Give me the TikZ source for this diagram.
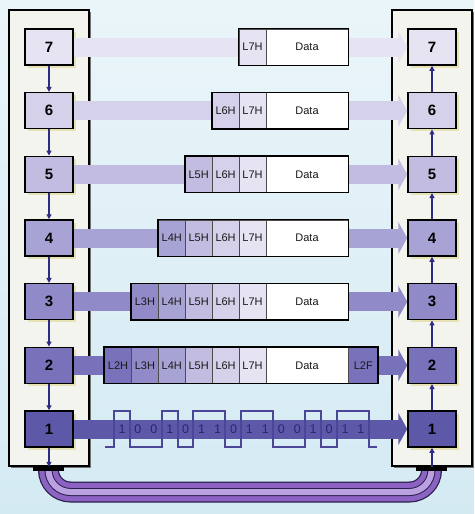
\documentclass[tikz,border=0pt]{standalone}
\usepackage{fontspec}
\setmainfont{Liberation Sans}
\usetikzlibrary{positioning, fit, calc, arrows.meta, shadows}
\definecolor{c7}{HTML}{E6E4F3}
\definecolor{c6}{HTML}{D5D1EA}
\definecolor{c5}{HTML}{C1BCE0}
\definecolor{c4}{HTML}{A8A3D5}
\definecolor{c3}{HTML}{908AC8}
\definecolor{c2}{HTML}{7872BB}
\definecolor{c1}{HTML}{5E58A8}
\definecolor{bgtop}{HTML}{EAF5F9}
\definecolor{bgbot}{HTML}{D4EAF3}
\definecolor{panelfill}{HTML}{F4F4EE}
\definecolor{flowblue}{HTML}{2E2B85}
\definecolor{wave}{HTML}{4C4699}
\definecolor{bittext}{HTML}{2A2670}
\definecolor{cabledark}{HTML}{2B1F4E}
\definecolor{cablemid}{HTML}{8C63C2}
\definecolor{cablelight}{HTML}{BBA0E2}
\definecolor{boxshadow}{HTML}{E6E2B4}

\begin{document}
\begin{tikzpicture}[x=1pt, y=-1pt,
    panel/.style={draw=black, line width=1.6pt, fill=panelfill, minimum width=80pt, minimum height=456pt, inner sep=0pt,
      drop shadow={shadow xshift=1.5pt, shadow yshift=-1.5pt, fill=black!55, opacity=1}},
    layer/.style={draw=black, line width=1.5pt, minimum width=48pt, minimum height=36pt, inner sep=0pt,
      font=\fontsize{15}{18}\selectfont\bfseries,
      drop shadow={shadow xshift=2.5pt, shadow yshift=-2.5pt, fill=boxshadow, opacity=1}},
    hdr/.style={draw=black!70, line width=0.8pt, minimum width=26.9pt, minimum height=36pt, inner sep=0pt,
      font=\fontsize{11}{13}\selectfont, text=black!90},
    data/.style={hdr, fill=white, minimum width=82pt},
    pkt/.style={draw=black, line width=1.5pt, inner sep=0pt},
    bar/.style={line width=19pt},
    pdu/.style={bar, -{Triangle[width=32pt, length=9pt]}},
    flow/.style={draw=flowblue, line width=1.2pt, -{Triangle[width=5pt, length=5pt]}},
    bit/.style={font=\fontsize{12.5}{14}\selectfont, text=bittext, inner sep=0pt},
    plug/.style={fill=black, minimum width=31pt, minimum height=5pt, inner sep=0pt}
  ]
  \useasboundingbox (0,0) rectangle (474,514);
  % background
  \shade[top color=bgtop, bottom color=bgbot] (0,0) rectangle (474,514);

  % cable
  \coordinate (cbl) at (0,492);
  \node[plug] (lplug) at (48.5,468.5) {};
  \node[plug] (rplug) at (431.5,468.5) {};
  \foreach \w/\c in {21/cabledark, 18.5/cablemid, 8/cabledark, 6/cablelight}
    \draw[line width=\w pt, \c, rounded corners=22pt] (lplug.center) -- (lplug.center |- cbl) -- (rplug.center |- cbl) -- (rplug.center);

  % stacks
  \node[panel] (lpanel) at (49,238) {};
  \node[panel] (rpanel) at (432,238) {};
  \node[plug] at (lplug) {};
  \node[plug] at (rplug) {};

  % layers, sender
  \node[layer, fill=c7] (l7) at (49,47) {7};
  \node[layer, fill=c6] (l6) at (49,110.7) {6};
  \node[layer, fill=c5] (l5) at (49,174.3) {5};
  \node[layer, fill=c4] (l4) at (49,238) {4};
  \node[layer, fill=c3] (l3) at (49,301.7) {3};
  \node[layer, fill=c2] (l2) at (49,365.3) {2};
  \node[layer, fill=c1] (l1) at (49,429) {1};
  % layers, receiver
  \node[layer, fill=c7] (r7) at (432,47) {7};
  \node[layer, fill=c6] (r6) at (432,110.7) {6};
  \node[layer, fill=c5] (r5) at (432,174.3) {5};
  \node[layer, fill=c4] (r4) at (432,238) {4};
  \node[layer, fill=c3] (r3) at (432,301.7) {3};
  \node[layer, fill=c2] (r2) at (432,365.3) {2};
  \node[layer, fill=c1] (r1) at (432,429) {1};

  % packets
  \foreach \r/\y in {7/47, 6/110.7, 5/174.3, 4/238, 3/301.7, 2/365.3}{
    \node[data] (d\r) at (307,\y) {Data};
    \foreach \h in {\r,...,7}
      \node[hdr, fill=c\h] (h\r\h) at ({252.5-(7-\h)*26.9},\y) {L\h H};
  }
  \node[hdr, fill=c2, minimum width=29pt, right=0pt of d2] (t2) {L2F};
  \foreach \r in {3,...,7}
    \node[pkt, fit=(h\r\r)(d\r)] (p\r) {};
  \node[pkt, fit=(h22)(t2)] (p2) {};

  % bars and arrows
  \foreach \r in {2,...,7}{
    \draw[bar, c\r] (l\r) -- (p\r);
    \draw[pdu, c\r] (p\r) -- (r\r);
  }
  \draw[pdu, c1] (l1) -- (r1);

  % bits on the wire
  \draw[wave, line width=1.1pt] (105,447) -- (114,447) -- (114,411) -- (130,411) -- (130,447) -- (162,447)
    -- (162,411) -- (178,411) -- (178,447) -- (193,447) -- (193,411) -- (225,411) -- (225,447)
    -- (241,447) -- (241,411) -- (273,411) -- (273,447) -- (305,447) -- (305,411) -- (321,411)
    -- (321,447) -- (337,447) -- (337,411) -- (369,411) -- (369,447) -- (377,447);
  \foreach \b [count=\i from 0] in {1,0,0,1,0,1,1,0,1,1,0,0,1,0,1,1}
    \node[bit] (b\i) at ({122+\i*15.93},429.5) {\b};

  % flow down and up
  \foreach \a/\b in {7/6, 6/5, 5/4, 4/3, 3/2, 2/1}{
    \draw[flow] (l\a) -- (l\b);
    \draw[flow] (r\b) -- (r\a);
  }
  \draw[flow] (l1) -- (l1 |- lpanel.south);
  \draw[flow] (r1 |- rpanel.south) -- (r1);
\end{tikzpicture}
\end{document}
